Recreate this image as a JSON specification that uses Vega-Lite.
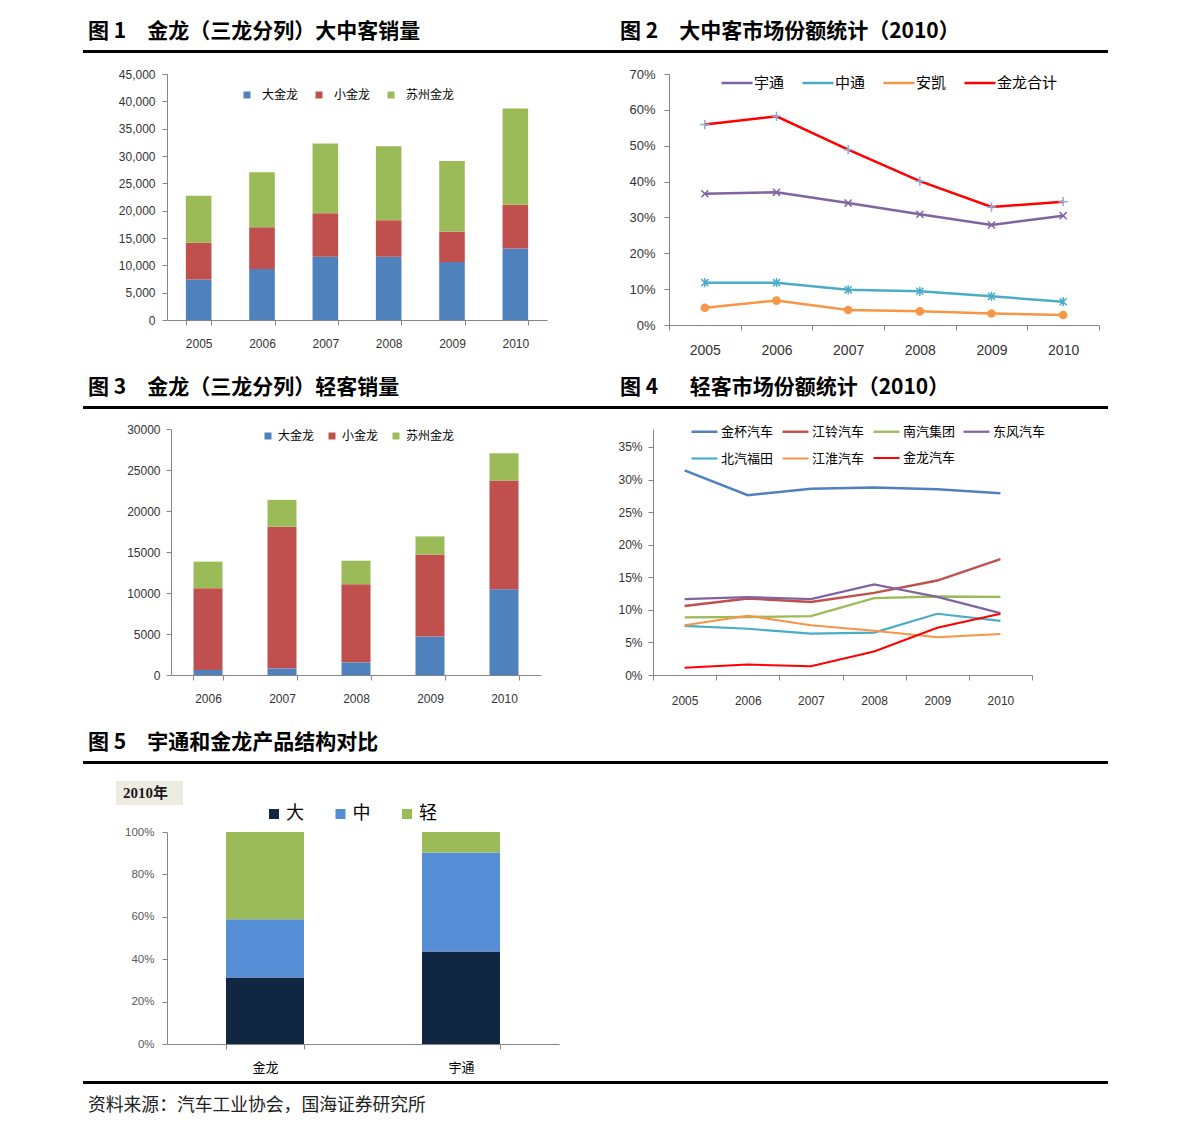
{
  "$schema": "https://vega.github.io/schema/vega-lite/v6.json",
  "padding": {"left": 83, "top": 21, "right": 5, "bottom": 5},
  "background": "white",
  "spacing": 0,
  "resolve": {"scale": {"color": "independent", "fill": "independent", "stroke": "independent", "shape": "independent", "strokeWidth": "independent"}},
  "config": {
    "view": {"stroke": null},
    "font": "Liberation Sans",
    "axis": {"grid": false, "domainColor": "#868686", "tickColor": "#868686", "tickSize": 5, "labelColor": "#333333", "labelFont": "Liberation Sans", "labelOverlap": false, "labelFlush": false},
    "legend": {"labelFont": "Noto Sans CJK SC", "labelColor": "#000000", "padding": 0, "labelLimit": 0}
  },
  "datasets": {
    "p1": [
      {"year": "2005", "s": "大金龙", "o": 1, "v": 7400}, {"year": "2005", "s": "小金龙", "o": 2, "v": 6750}, {"year": "2005", "s": "苏州金龙", "o": 3, "v": 8570},
      {"year": "2006", "s": "大金龙", "o": 1, "v": 9310}, {"year": "2006", "s": "小金龙", "o": 2, "v": 7650}, {"year": "2006", "s": "苏州金龙", "o": 3, "v": 10050},
      {"year": "2007", "s": "大金龙", "o": 1, "v": 11570}, {"year": "2007", "s": "小金龙", "o": 2, "v": 7960}, {"year": "2007", "s": "苏州金龙", "o": 3, "v": 12740},
      {"year": "2008", "s": "大金龙", "o": 1, "v": 11570}, {"year": "2008", "s": "小金龙", "o": 2, "v": 6680}, {"year": "2008", "s": "苏州金龙", "o": 3, "v": 13530},
      {"year": "2009", "s": "大金龙", "o": 1, "v": 10590}, {"year": "2009", "s": "小金龙", "o": 2, "v": 5580}, {"year": "2009", "s": "苏州金龙", "o": 3, "v": 12920},
      {"year": "2010", "s": "大金龙", "o": 1, "v": 13100}, {"year": "2010", "s": "小金龙", "o": 2, "v": 7970}, {"year": "2010", "s": "苏州金龙", "o": 3, "v": 17630}
    ],
    "p2": [
      {"year": "2005", "s": "宇通", "v": 0.366}, {"year": "2006", "s": "宇通", "v": 0.370}, {"year": "2007", "s": "宇通", "v": 0.340}, {"year": "2008", "s": "宇通", "v": 0.309}, {"year": "2009", "s": "宇通", "v": 0.279}, {"year": "2010", "s": "宇通", "v": 0.305},
      {"year": "2005", "s": "中通", "v": 0.118}, {"year": "2006", "s": "中通", "v": 0.118}, {"year": "2007", "s": "中通", "v": 0.098}, {"year": "2008", "s": "中通", "v": 0.094}, {"year": "2009", "s": "中通", "v": 0.080}, {"year": "2010", "s": "中通", "v": 0.065},
      {"year": "2005", "s": "安凯", "v": 0.048}, {"year": "2006", "s": "安凯", "v": 0.068}, {"year": "2007", "s": "安凯", "v": 0.042}, {"year": "2008", "s": "安凯", "v": 0.038}, {"year": "2009", "s": "安凯", "v": 0.032}, {"year": "2010", "s": "安凯", "v": 0.028},
      {"year": "2005", "s": "金龙合计", "v": 0.559}, {"year": "2006", "s": "金龙合计", "v": 0.582}, {"year": "2007", "s": "金龙合计", "v": 0.489}, {"year": "2008", "s": "金龙合计", "v": 0.401}, {"year": "2009", "s": "金龙合计", "v": 0.329}, {"year": "2010", "s": "金龙合计", "v": 0.344}
    ],
    "p3": [
      {"year": "2006", "s": "大金龙", "o": 1, "v": 610}, {"year": "2006", "s": "小金龙", "o": 2, "v": 9970}, {"year": "2006", "s": "苏州金龙", "o": 3, "v": 3240},
      {"year": "2007", "s": "大金龙", "o": 1, "v": 810}, {"year": "2007", "s": "小金龙", "o": 2, "v": 17270}, {"year": "2007", "s": "苏州金龙", "o": 3, "v": 3280},
      {"year": "2008", "s": "大金龙", "o": 1, "v": 1540}, {"year": "2008", "s": "小金龙", "o": 2, "v": 9530}, {"year": "2008", "s": "苏州金龙", "o": 3, "v": 2870},
      {"year": "2009", "s": "大金龙", "o": 1, "v": 4700}, {"year": "2009", "s": "小金龙", "o": 2, "v": 10010}, {"year": "2009", "s": "苏州金龙", "o": 3, "v": 2190},
      {"year": "2010", "s": "大金龙", "o": 1, "v": 10460}, {"year": "2010", "s": "小金龙", "o": 2, "v": 13250}, {"year": "2010", "s": "苏州金龙", "o": 3, "v": 3330}
    ],
    "p4": [
      {"year": "2005", "s": "金杯汽车", "v": 0.314}, {"year": "2006", "s": "金杯汽车", "v": 0.276}, {"year": "2007", "s": "金杯汽车", "v": 0.286}, {"year": "2008", "s": "金杯汽车", "v": 0.288}, {"year": "2009", "s": "金杯汽车", "v": 0.285}, {"year": "2010", "s": "金杯汽车", "v": 0.279},
      {"year": "2005", "s": "江铃汽车", "v": 0.106}, {"year": "2006", "s": "江铃汽车", "v": 0.1175}, {"year": "2007", "s": "江铃汽车", "v": 0.112}, {"year": "2008", "s": "江铃汽车", "v": 0.126}, {"year": "2009", "s": "江铃汽车", "v": 0.145}, {"year": "2010", "s": "江铃汽车", "v": 0.178},
      {"year": "2005", "s": "南汽集团", "v": 0.0885}, {"year": "2006", "s": "南汽集团", "v": 0.089}, {"year": "2007", "s": "南汽集团", "v": 0.0905}, {"year": "2008", "s": "南汽集团", "v": 0.118}, {"year": "2009", "s": "南汽集团", "v": 0.1205}, {"year": "2010", "s": "南汽集团", "v": 0.120},
      {"year": "2005", "s": "东风汽车", "v": 0.1165}, {"year": "2006", "s": "东风汽车", "v": 0.1195}, {"year": "2007", "s": "东风汽车", "v": 0.1165}, {"year": "2008", "s": "东风汽车", "v": 0.139}, {"year": "2009", "s": "东风汽车", "v": 0.120}, {"year": "2010", "s": "东风汽车", "v": 0.095},
      {"year": "2005", "s": "北汽福田", "v": 0.0755}, {"year": "2006", "s": "北汽福田", "v": 0.071}, {"year": "2007", "s": "北汽福田", "v": 0.0635}, {"year": "2008", "s": "北汽福田", "v": 0.065}, {"year": "2009", "s": "北汽福田", "v": 0.094}, {"year": "2010", "s": "北汽福田", "v": 0.083},
      {"year": "2005", "s": "江淮汽车", "v": 0.0765}, {"year": "2006", "s": "江淮汽车", "v": 0.091}, {"year": "2007", "s": "江淮汽车", "v": 0.0765}, {"year": "2008", "s": "江淮汽车", "v": 0.068}, {"year": "2009", "s": "江淮汽车", "v": 0.058}, {"year": "2010", "s": "江淮汽车", "v": 0.063},
      {"year": "2005", "s": "金龙汽车", "v": 0.011}, {"year": "2006", "s": "金龙汽车", "v": 0.016}, {"year": "2007", "s": "金龙汽车", "v": 0.0135}, {"year": "2008", "s": "金龙汽车", "v": 0.036}, {"year": "2009", "s": "金龙汽车", "v": 0.0725}, {"year": "2010", "s": "金龙汽车", "v": 0.094}
    ],
    "p5": [
      {"c": "金龙", "s": "大", "o": 1, "v": 31.4}, {"c": "金龙", "s": "中", "o": 2, "v": 27.5}, {"c": "金龙", "s": "轻", "o": 3, "v": 41.1},
      {"c": "宇通", "s": "大", "o": 1, "v": 43.6}, {"c": "宇通", "s": "中", "o": 2, "v": 46.7}, {"c": "宇通", "s": "轻", "o": 3, "v": 9.7}
    ]
  },
  "vconcat": [
    {
      "hconcat": [
        {"width": 532, "height": 3, "data": {"values": []}, "mark": "point", "view": {"fill": "#000000", "stroke": null},
         "title": {"text": "图 1　金龙（三龙分列）大中客销量", "anchor": "start", "dx": 5, "offset": 8, "font": "Noto Sans CJK SC", "fontSize": 21, "fontWeight": "bold", "color": "#000000"}},
        {"width": 493, "height": 3, "data": {"values": []}, "mark": "point", "view": {"fill": "#000000", "stroke": null},
         "title": {"text": "图 2　大中客市场份额统计（2010）", "anchor": "start", "dx": 5, "offset": 8, "font": "Noto Sans CJK SC", "fontSize": 21, "fontWeight": "bold", "color": "#000000"}},
        {"width": 1, "height": 16, "data": {"values": []}, "mark": "point"}
      ],
      "spacing": 0, "bounds": "flush",
      "resolve": {"scale": {"color": "independent", "fill": "independent", "stroke": "independent", "shape": "independent", "strokeWidth": "independent"}}
    },
    {
      "hconcat": [
        {"width": 84, "height": 302.5, "data": {"values": []}, "mark": "point"},
        {
          "width": 380, "height": 246,
          "data": {"name": "p1"},
          "mark": {"type": "bar"},
          "encoding": {
            "x": {"field": "year", "type": "nominal", "title": null, "scale": {"paddingInner": 0.596, "paddingOuter": 0.298},
                  "axis": {"labelAngle": 0, "tickBand": "extent", "labelBaseline": "middle", "labelPadding": 18, "labelFontSize": 12}},
            "y": {"field": "v", "type": "quantitative", "title": null, "stack": "zero", "scale": {"domain": [0, 45000], "nice": false},
                  "axis": {"values": [0, 5000, 10000, 15000, 20000, 25000, 30000, 35000, 40000, 45000], "format": ",d", "labelFontSize": 12, "labelPadding": 7}},
            "color": {"field": "s", "type": "nominal", "scale": {"domain": ["大金龙", "小金龙", "苏州金龙"], "range": ["#4F81BD", "#C0504D", "#9BBB59"]},
                      "legend": {"title": null, "orient": "none", "legendX": 74, "legendY": 15, "direction": "horizontal", "symbolType": "square", "symbolSize": 49, "labelFontSize": 12, "labelOffset": 9, "columnPadding": 14}},
            "order": {"field": "o", "type": "quantitative"}
          }
        },
        {"width": 122, "height": 1, "data": {"values": []}, "mark": "point"},
        {
          "width": 430, "height": 251,
          "data": {"name": "p2"},
          "encoding": {
            "x": {"field": "year", "type": "nominal", "title": null, "scale": {"type": "band", "paddingInner": 0, "paddingOuter": 0},
                  "axis": {"labelAngle": 0, "tickBand": "extent", "labelBaseline": "middle", "labelPadding": 20, "labelFontSize": 14}},
            "y": {"field": "v", "type": "quantitative", "title": null, "scale": {"domain": [0, 0.7], "nice": false},
                  "axis": {"values": [0, 0.1, 0.2, 0.3, 0.4, 0.5, 0.6, 0.7], "format": ".0%", "labelFontSize": 13, "labelPadding": 9}}
          },
          "layer": [
            {
              "mark": {"type": "line", "strokeWidth": 2.5},
              "encoding": {
                "color": {"field": "s", "type": "nominal", "scale": {"domain": ["宇通", "中通", "安凯", "金龙合计"], "range": ["#8064A2", "#4BACC6", "#F79646", "#FF0000"]},
                          "legend": {"title": null, "orient": "none", "legendX": 51, "legendY": -8, "direction": "horizontal", "symbolType": "stroke", "symbolSize": 961, "symbolStrokeWidth": 2.5, "labelFontSize": 15, "labelOffset": 0, "columnPadding": 12}}
              }
            },
            {
              "mark": {"type": "point", "strokeWidth": 1.5, "opacity": 1, "filled": false, "size": 50},
              "encoding": {
                "shape": {"field": "s", "type": "nominal", "scale": {"range": ["M-1,-1L1,1M-1,1L1,-1M0,-1.3L0,1.3", "M-1,-1L1,1M-1,1L1,-1", "circle", "M-1.3,0L1.3,0M0,-1.3L0,1.3"]}, "legend": null},
                "stroke": {"field": "s", "type": "nominal", "scale": {"range": ["#4BACC6", "#8064A2", "#F79646", "#8EA9DB"]}, "legend": null},
                "fill": {"field": "s", "type": "nominal", "scale": {"range": ["rgba(0,0,0,0)", "rgba(0,0,0,0)", "#F79646", "rgba(0,0,0,0)"]}, "legend": null}
              }
            }
          ]
        }
      ],
      "spacing": 0, "bounds": "flush",
      "resolve": {"scale": {"color": "independent", "fill": "independent", "stroke": "independent", "shape": "independent", "strokeWidth": "independent"}}
    },
    {
      "hconcat": [
        {"width": 532, "height": 3, "data": {"values": []}, "mark": "point", "view": {"fill": "#000000", "stroke": null},
         "title": {"text": "图 3　金龙（三龙分列）轻客销量", "anchor": "start", "dx": 5, "offset": 8, "font": "Noto Sans CJK SC", "fontSize": 21, "fontWeight": "bold", "color": "#000000"}},
        {"width": 493, "height": 3, "data": {"values": []}, "mark": "point", "view": {"fill": "#000000", "stroke": null},
         "title": {"text": "图 4\u2002\u3000轻客市场份额统计（2010）", "anchor": "start", "dx": 5, "offset": 8, "font": "Noto Sans CJK SC", "fontSize": 21, "fontWeight": "bold", "color": "#000000"}},
        {"width": 1, "height": 10.5, "data": {"values": []}, "mark": "point"}
      ],
      "spacing": 0, "bounds": "flush",
      "resolve": {"scale": {"color": "independent", "fill": "independent", "stroke": "independent", "shape": "independent", "strokeWidth": "independent"}}
    },
    {
      "hconcat": [
        {"width": 88, "height": 302.5, "data": {"values": []}, "mark": "point"},
        {
          "width": 370, "height": 246,
          "data": {"name": "p3"},
          "mark": {"type": "bar"},
          "encoding": {
            "x": {"field": "year", "type": "nominal", "title": null, "scale": {"paddingInner": 0.608, "paddingOuter": 0.304},
                  "axis": {"labelAngle": 0, "tickBand": "extent", "labelBaseline": "middle", "labelPadding": 18, "labelFontSize": 12}},
            "y": {"field": "v", "type": "quantitative", "title": null, "stack": "zero", "scale": {"domain": [0, 30000], "nice": false},
                  "axis": {"values": [0, 5000, 10000, 15000, 20000, 25000, 30000], "format": "d", "labelFontSize": 12, "labelPadding": 6}},
            "color": {"field": "s", "type": "nominal", "scale": {"domain": ["大金龙", "小金龙", "苏州金龙"], "range": ["#4F81BD", "#C0504D", "#9BBB59"]},
                      "legend": {"title": null, "orient": "none", "legendX": 91, "legendY": 1, "direction": "horizontal", "symbolType": "square", "symbolSize": 49, "labelFontSize": 12, "labelOffset": 4, "columnPadding": 11}},
            "order": {"field": "o", "type": "quantitative"}
          }
        },
        {"width": 112, "height": 1, "data": {"values": []}, "mark": "point"},
        {
          "width": 379, "height": 246,
          "data": {"name": "p4"},
          "mark": {"type": "line"},
          "encoding": {
            "x": {"field": "year", "type": "nominal", "title": null, "scale": {"type": "band", "paddingInner": 0, "paddingOuter": 0},
                  "axis": {"labelAngle": 0, "tickBand": "extent", "labelBaseline": "middle", "labelPadding": 20, "labelFontSize": 12}},
            "y": {"field": "v", "type": "quantitative", "title": null, "scale": {"domain": [0, 0.37763], "nice": false},
                  "axis": {"values": [0, 0.05, 0.1, 0.15, 0.2, 0.25, 0.3, 0.35], "format": ".0%", "labelFontSize": 12, "labelPadding": 6}},
            "color": {"field": "s", "type": "ordinal", "scale": {"domain": ["金杯汽车", "江铃汽车", "南汽集团", "东风汽车", "北汽福田", "江淮汽车", "金龙汽车"], "range": ["#4F81BD", "#C0504D", "#9BBB59", "#8064A2", "#4BACC6", "#F79646", "#FF0000"]},
                      "legend": {"title": null, "orient": "none", "legendX": 37, "legendY": -12, "direction": "horizontal", "columns": 4, "symbolType": "stroke", "symbolSize": 676, "labelFontSize": 13, "labelOffset": 2, "columnPadding": 3, "rowPadding": 5}},
            "strokeWidth": {"field": "s", "type": "ordinal", "scale": {"domain": ["金杯汽车", "江铃汽车", "南汽集团", "东风汽车", "北汽福田", "江淮汽车", "金龙汽车"], "range": [2.5, 2, 1.5, 1.5, 1.5, 1.5, 3.5]},
                      "legend": {"title": null, "orient": "none", "legendX": 37, "legendY": -12, "direction": "horizontal", "columns": 4, "symbolType": "stroke", "symbolSize": 676, "labelFontSize": 13, "labelOffset": 2, "columnPadding": 3, "rowPadding": 5}}
          }
        }
      ],
      "spacing": 0, "bounds": "flush",
      "resolve": {"scale": {"color": "independent", "fill": "independent", "stroke": "independent", "shape": "independent", "strokeWidth": "independent"}}
    },
    {
      "hconcat": [
        {"width": 1025, "height": 3, "data": {"values": []}, "mark": "point", "view": {"fill": "#000000", "stroke": null},
         "title": {"text": "图 5　宇通和金龙产品结构对比", "anchor": "start", "dx": 5, "offset": 8, "font": "Noto Sans CJK SC", "fontSize": 21, "fontWeight": "bold", "color": "#000000"}},
        {"width": 1, "height": 19.5, "data": {"values": []}, "mark": "point"}
      ],
      "spacing": 0, "bounds": "flush",
      "resolve": {"scale": {"color": "independent", "fill": "independent", "stroke": "independent", "shape": "independent", "strokeWidth": "independent"}}
    },
    {
      "hconcat": [
        {"width": 33, "height": 1, "data": {"values": []}, "mark": "point"},
        {"width": 67, "height": 24, "data": {"values": [{"label": "2010年"}]},
         "mark": {"type": "text", "font": "Liberation Serif, Noto Sans CJK SC", "fontWeight": "bold", "fontSize": 15, "color": "#1a1a1a", "dx": -4},
         "encoding": {"text": {"field": "label"}},
         "view": {"fill": "#EEECE1", "stroke": null}}
      ],
      "spacing": 0, "bounds": "flush",
      "resolve": {"scale": {"color": "independent", "fill": "independent", "stroke": "independent", "shape": "independent", "strokeWidth": "independent"}}
    },
    {
      "hconcat": [
        {"width": 84, "height": 249, "data": {"values": []}, "mark": "point"},
        {
          "width": 392, "height": 212,
          "data": {"name": "p5"},
          "mark": {"type": "bar"},
          "encoding": {
            "x": {"field": "c", "type": "nominal", "sort": ["金龙", "宇通"], "title": null, "scale": {"paddingInner": 0.602, "paddingOuter": 0.301},
                  "axis": {"labelAngle": 0, "tickBand": "extent", "labelFont": "Noto Sans CJK SC", "labelFontSize": 13, "labelBaseline": "middle", "labelPadding": 18, "labelColor": "#000000"}},
            "y": {"field": "v", "type": "quantitative", "stack": "normalize", "title": null, "scale": {"domain": [0, 1], "nice": false},
                  "axis": {"values": [0, 0.2, 0.4, 0.6, 0.8, 1], "format": ".0%", "labelFontSize": 11.5, "labelPadding": 8, "labelColor": "#595959"}},
            "color": {"field": "s", "type": "nominal", "scale": {"domain": ["大", "中", "轻"], "range": ["#112640", "#558ED5", "#9BBB59"]},
                      "legend": {"title": null, "orient": "none", "legendX": 98, "legendY": -27, "direction": "horizontal", "symbolType": "square", "symbolSize": 100, "labelFontSize": 18, "labelOffset": 3, "columnPadding": 27.5}},
            "order": {"field": "o", "type": "quantitative"}
          }
        }
      ],
      "spacing": 0, "bounds": "flush",
      "resolve": {"scale": {"color": "independent", "fill": "independent", "stroke": "independent", "shape": "independent", "strokeWidth": "independent"}}
    },
    {"width": 1025, "height": 3, "data": {"values": []}, "mark": "point", "view": {"fill": "#000000", "stroke": null},
     "title": {"text": "资料来源：汽车工业协会，国海证券研究所", "orient": "bottom", "anchor": "start", "dx": 5, "offset": 13, "font": "Noto Sans CJK SC", "fontSize": 17.8, "fontWeight": "normal", "color": "#222222"}}
  ]
}
